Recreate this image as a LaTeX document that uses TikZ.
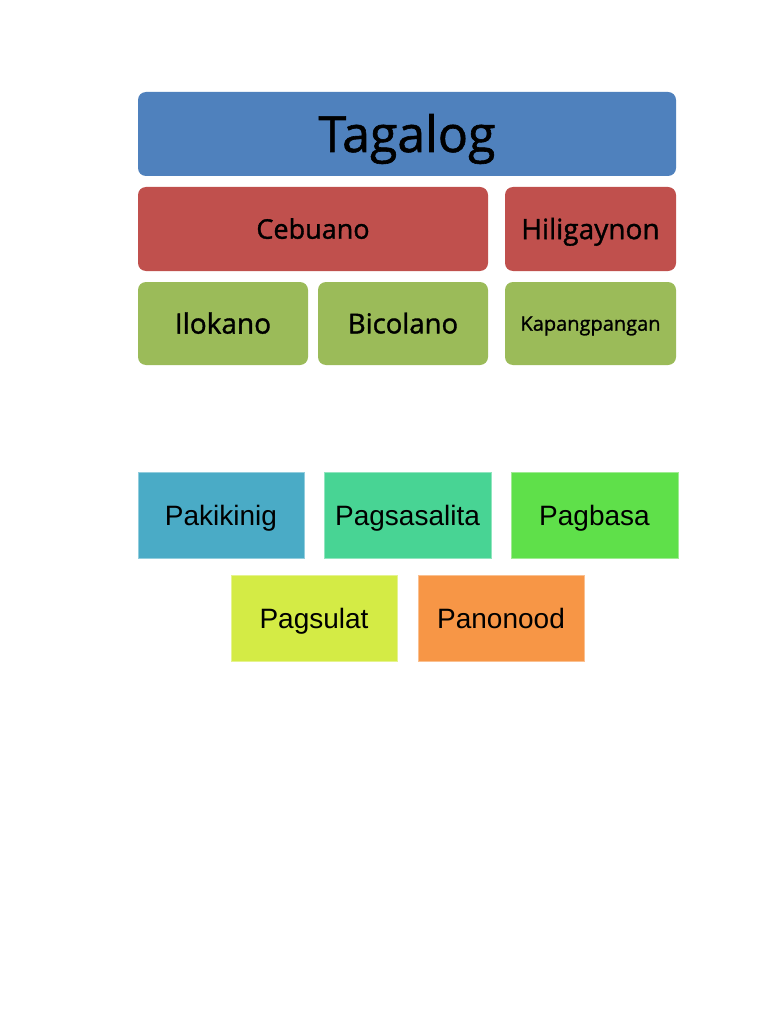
\documentclass[tikz,border=0pt]{standalone}
\usepackage{fontspec}
\setmainfont{Liberation Sans}
\newfontfamily\casual[FakeBold=1.2]{Open Sans}
\definecolor{tblue}{HTML}{4F81BD}
\definecolor{tred}{HTML}{C0504D}
\definecolor{tgreen}{HTML}{9BBB59}
\definecolor{cA}{HTML}{4AABC6}
\definecolor{cB}{HTML}{48D494}
\definecolor{cC}{HTML}{5FE04A}
\definecolor{cD}{HTML}{D4EB45}
\definecolor{cE}{HTML}{F79646}
\begin{document}
\begin{tikzpicture}[x=1pt,y=-1pt,
  lang/.style={rounded corners=8pt, inner sep=0pt, align=center, text depth=0pt, text=black},
  skill/.style={draw=#1!60!white, fill=#1, line width=0.8pt, minimum width=166pt, minimum height=86pt, inner sep=0pt, font=\fontsize{28}{32}\selectfont, text height=20.1pt, text depth=0pt, text=black}]
\fill[white] (0,0) rectangle (768,1024);
\useasboundingbox (0,0) rectangle (768,1024);
\node[lang, fill=tblue, minimum width=538pt, minimum height=84pt, font=\casual\fontsize{50}{56}\selectfont, text height=36pt] (tag) at (407,134) {Tagalog};
\node[lang, fill=tred, minimum width=350pt, minimum height=84pt, font=\casual\fontsize{27}{30}\selectfont, text height=19.4pt] (ceb) at (313,229) {Cebuano};
\node[lang, fill=tred, minimum width=171pt, minimum height=84pt, font=\casual\fontsize{28}{30}\selectfont, text height=20.2pt] (hil) at (590.5,229) {Hiligaynon};
\node[lang, fill=tgreen, minimum width=170pt, minimum height=83pt, font=\casual\fontsize{28}{30}\selectfont, text height=20.2pt] (ilo) at (223,323.5) {Ilokano};
\node[lang, fill=tgreen, minimum width=170pt, minimum height=83pt, font=\casual\fontsize{27.5}{30}\selectfont, text height=19.8pt] (bic) at (403,323.5) {Bicolano};
\node[lang, fill=tgreen, minimum width=171pt, minimum height=83pt, font=\casual\fontsize{20}{22}\selectfont, text height=14.4pt] (kap) at (590.5,323.5) {Kapangpangan};
\node[skill=cA] (pak) at (221,515) {Pakikinig};
\node[skill=cB, minimum width=167pt] (psa) at (407.5,515) {Pagsasalita};
\node[skill=cC, minimum width=167pt] (pba) at (594.5,515) {Pagbasa};
\node[skill=cD] (psu) at (314,618) {Pagsulat};
\node[skill=cE] (pan) at (501,618) {Panonood};
\end{tikzpicture}
\end{document}
